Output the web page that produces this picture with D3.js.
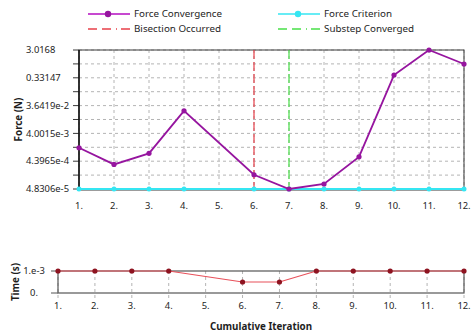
<!DOCTYPE html>
<html><head><meta charset="utf-8">
<script src="https://cdn.jsdelivr.net/npm/d3@7"></script>
<style>
html,body{margin:0;padding:0;background:#fff;}
svg{display:block;font-family:"Segoe UI","Noto Sans","Open Sans",sans-serif;}
</style></head>
<body><svg id="c" width="474" height="335"></svg>
<script>
// ---- data ----
const iterations = [1, 2, 3, 4, 6, 7, 8, 9, 10, 11, 12];
const forceConvergence = [1.28e-3, 3.4e-4, 8.2e-4, 2.4e-2, 1.5e-4, 4.8306e-5, 7.2e-5, 6.2e-4, 0.41, 3.0168, 0.99];
const forceCriterion = [4.8306e-5, 4.8306e-5, 4.8306e-5, 4.8306e-5, 4.8306e-5, 4.8306e-5, 4.8306e-5, 4.8306e-5, 4.8306e-5, 4.8306e-5, 4.8306e-5];
const bisectionAt = [6];
const substepConvergedAt = [7];
const timeValues = [1e-3, 1e-3, 1e-3, 1e-3, 5e-4, 5e-4, 1e-3, 1e-3, 1e-3, 1e-3, 1e-3];
const xTickValues = [1, 2, 3, 4, 5, 6, 7, 8, 9, 10, 11, 12];
const xTickLabels = ["1.", "2.", "3.", "4.", "5.", "6.", "7.", "8.", "9.", "10.", "11.", "12."];
const forceTickLabels = ["3.0168", "0.33147", "3.6419e-2", "4.0015e-3", "4.3965e-4", "4.8306e-5"];
const timeTickValues = [0, 1e-3];
const timeTickLabels = ["0.", "1.e-3"];
const legendItems = ["Force Convergence", "Force Criterion", "Bisection Occurred", "Substep Converged"];

// ---- styles ----
const C = {purple: "#96159f", legendPurple: "#b40cc0", cyan: "#35e6f2", red: "#e8404a", green: "#48e048",
  grid: "#b4b4b4", frame: "#3a3a3a", text: "#1e1e1e", timeLine: "#e8505a", timeMark: "#8e1320"};
const FS = "9.4px";

const svg = d3.select("#c");
const forceTickVals = forceTickLabels.map(Number);

// ---- main chart ----
const M = {l: 79, r: 464, t: 50, b: 189};
const x = d3.scaleLinear().domain([1, 12]).range([M.l, M.r]);
const y = d3.scaleLog().domain([d3.min(forceTickVals), d3.max(forceTickVals)]).range([M.b, M.t]);

const sortedTicks = forceTickVals.slice().sort((a, b) => a - b);
const minorTicks = d3.range(sortedTicks.length - 1).map(i => Math.sqrt(sortedTicks[i] * sortedTicks[i + 1]));
const allYGrid = sortedTicks.concat(minorTicks);

const g = svg.append("g");
// gridlines
g.selectAll(".hg").data(allYGrid).enter().append("line")
  .attr("x1", M.l).attr("x2", M.r).attr("y1", d => y(d)).attr("y2", d => y(d))
  .attr("stroke", C.grid).attr("stroke-dasharray", "3,3").attr("stroke-width", 1);
g.selectAll(".vg").data(xTickValues).enter().append("line")
  .attr("x1", d => x(d)).attr("x2", d => x(d)).attr("y1", M.t).attr("y2", M.b)
  .attr("stroke", C.grid).attr("stroke-dasharray", "3,3").attr("stroke-width", 1);
// y ticks
g.selectAll(".yt").data(allYGrid).enter().append("line")
  .attr("x1", M.l - 6).attr("x2", M.l).attr("y1", d => y(d)).attr("y2", d => y(d))
  .attr("stroke", C.frame);
g.selectAll(".yl").data(forceTickLabels).enter().append("text")
  .attr("x", 26).attr("y", d => y(+d)).attr("dy", "0.35em")
  .attr("font-size", FS).attr("fill", C.text).text(d => d);
// frame
g.append("rect").attr("x", M.l).attr("y", M.t).attr("width", M.r - M.l).attr("height", M.b - M.t + 1)
  .attr("fill", "none").attr("stroke", C.frame).attr("stroke-width", 1);
g.append("line").attr("x1", M.l).attr("x2", M.l).attr("y1", M.t).attr("y2", M.b + 1).attr("stroke", "#111").attr("stroke-width", 1.5);
// x labels
g.selectAll(".xl").data(xTickValues).enter().append("text")
  .attr("x", d => x(d)).attr("y", 209).attr("text-anchor", "middle")
  .attr("font-size", FS).attr("fill", C.text).text((d, i) => xTickLabels[i]);

// vertical event lines
g.selectAll(".bis").data(bisectionAt).enter().append("line")
  .attr("x1", d => x(d)).attr("x2", d => x(d)).attr("y1", M.t).attr("y2", M.b)
  .attr("stroke", C.red).attr("stroke-width", 1.2).attr("stroke-dasharray", "9,3");
g.selectAll(".sub").data(substepConvergedAt).enter().append("line")
  .attr("x1", d => x(d)).attr("x2", d => x(d)).attr("y1", M.t).attr("y2", M.b)
  .attr("stroke", C.green).attr("stroke-width", 1.2).attr("stroke-dasharray", "9,3");

// series
const line = d3.line().x(d => x(d[0])).y(d => y(d[1]));
const crit = iterations.map((it, i) => [it, forceCriterion[i]]);
const conv = iterations.map((it, i) => [it, forceConvergence[i]]);
g.append("path").datum(crit).attr("d", line).attr("fill", "none").attr("stroke", C.cyan).attr("stroke-width", 2);
g.selectAll(".cm").data(crit).enter().append("circle")
  .attr("cx", d => x(d[0])).attr("cy", d => y(d[1])).attr("r", 2.5).attr("fill", C.cyan);
g.append("path").datum(conv).attr("d", line).attr("fill", "none").attr("stroke", C.purple).attr("stroke-width", 1.8);
g.selectAll(".pm").data(conv).enter().append("circle")
  .attr("cx", d => x(d[0])).attr("cy", d => y(d[1])).attr("r", 2.6).attr("fill", C.purple);

// y label
g.append("text").attr("transform", `translate(22,${(M.t + M.b) / 2}) rotate(-90)`)
  .attr("text-anchor", "middle").attr("font-size", "9.8px").attr("font-weight", "bold")
  .attr("fill", C.text).text("Force (N)");

// ---- legend ----
const L = svg.append("g");
const legendPos = [[88, 14], [278, 14], [88, 29], [278, 29]];
const legendColor = [C.legendPurple, C.cyan, C.red, C.green];
legendItems.forEach((name, i) => {
  const [lx, ly] = legendPos[i];
  const ln = L.append("line").attr("x1", lx).attr("x2", lx + 42).attr("y1", ly).attr("y2", ly)
    .attr("stroke", legendColor[i]).attr("stroke-width", 1.5);
  if (i >= 2) ln.attr("stroke-dasharray", "9,5,9,5,1,4");
  if (i < 2) L.append("circle").attr("cx", lx + 20).attr("cy", ly).attr("r", 3.2).attr("fill", i === 0 ? C.purple : C.cyan);
  L.append("text").attr("x", lx + 46).attr("y", ly).attr("dy", "0.35em")
    .attr("font-size", "9.8px").attr("fill", C.text).text(name);
});

// ---- time chart ----
const T = {l: 58, r: 464, t: 271, b: 293};
const xt = d3.scaleLinear().domain([1, 12]).range([T.l, T.r]);
const yt = d3.scaleLinear().domain([0, 1e-3]).range([T.b, T.t]);
const tg = svg.append("g");
tg.selectAll(".tvg").data(xTickValues).enter().append("line")
  .attr("x1", d => xt(d)).attr("x2", d => xt(d)).attr("y1", T.t).attr("y2", T.b + 6)
  .attr("stroke", C.grid).attr("stroke-dasharray", "3,3");
tg.append("rect").attr("x", T.l).attr("y", T.t).attr("width", T.r - T.l).attr("height", T.b - T.t)
  .attr("fill", "none").attr("stroke", "#555").attr("stroke-width", 1.2);
tg.selectAll(".tyt").data(timeTickValues).enter().append("line")
  .attr("x1", T.l - 7).attr("x2", T.l).attr("y1", d => yt(d)).attr("y2", d => yt(d)).attr("stroke", "#555");
tg.selectAll(".tyl").data(timeTickValues).enter().append("text")
  .attr("x", 34).attr("y", d => yt(d)).attr("dy", "0.35em").attr("text-anchor", "middle")
  .attr("font-size", FS).attr("fill", C.text).text((d, i) => timeTickLabels[i]);
tg.selectAll(".txl").data(xTickValues).enter().append("text")
  .attr("x", d => xt(d)).attr("y", 309).attr("text-anchor", "middle")
  .attr("font-size", FS).attr("fill", C.text).text((d, i) => xTickLabels[i]);
const tdata = iterations.map((it, i) => [it, timeValues[i]]);
tg.append("path").datum(tdata).attr("d", d3.line().x(d => xt(d[0])).y(d => yt(d[1])))
  .attr("fill", "none").attr("stroke", C.timeLine).attr("stroke-width", 1.2);
tg.selectAll(".tm").data(tdata).enter().append("circle")
  .attr("cx", d => xt(d[0])).attr("cy", d => yt(d[1])).attr("r", 2.6).attr("fill", C.timeMark);
tg.append("text").attr("transform", `translate(19,${(T.t + T.b) / 2}) rotate(-90)`)
  .attr("text-anchor", "middle").attr("font-size", "9.8px").attr("font-weight", "bold")
  .attr("fill", C.text).text("Time (s)");
tg.append("text").attr("x", 261).attr("y", 330).attr("text-anchor", "middle")
  .attr("font-size", "9.8px").attr("font-weight", "bold").attr("fill", C.text).text("Cumulative Iteration");
</script></body></html>
